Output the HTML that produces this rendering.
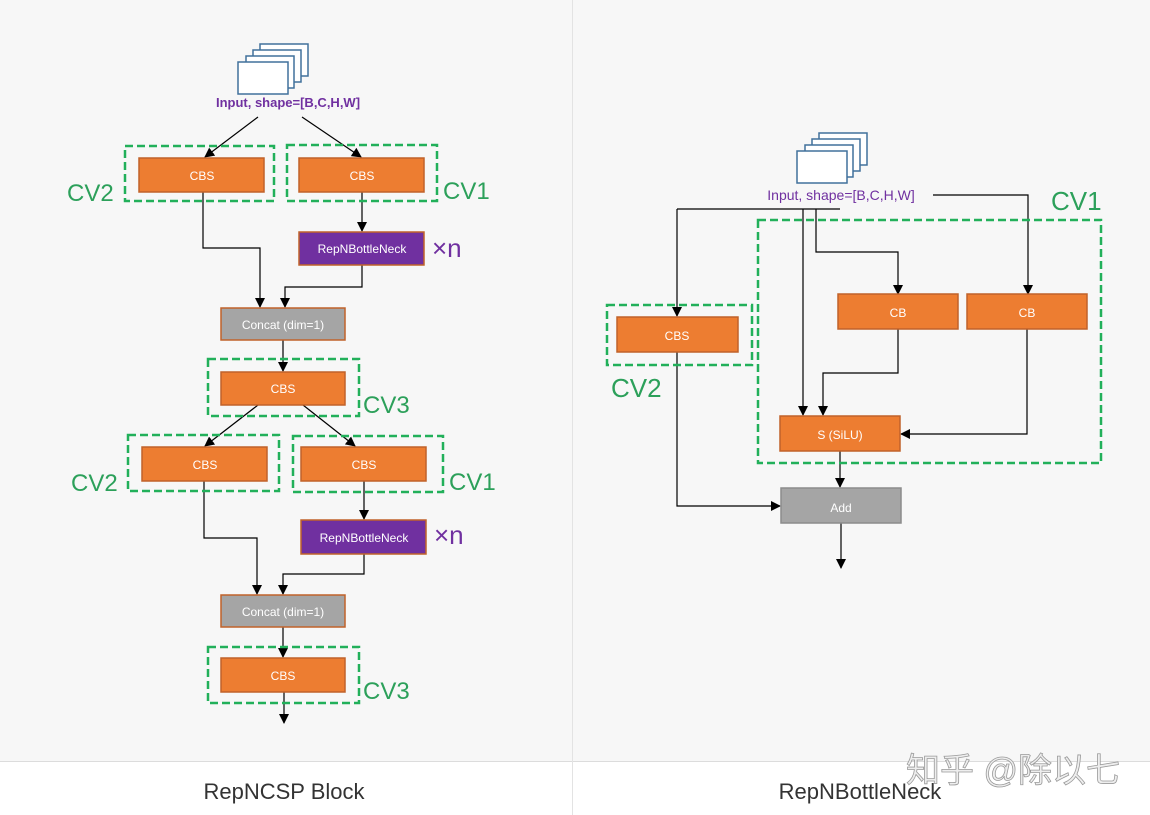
<!DOCTYPE html>
<html><head><meta charset="utf-8"><style>
html,body{margin:0;padding:0;background:#fff}
svg{display:block}
text{font-family:"Liberation Sans","Noto Sans CJK SC",sans-serif}
</style></head><body>
<svg width="1150" height="815" viewBox="0 0 1150 815" xmlns="http://www.w3.org/2000/svg">
<defs>
<marker id="a" markerWidth="10" markerHeight="10" refX="9" refY="5" orient="auto" markerUnits="userSpaceOnUse">
<path d="M0,0 L10,5 L0,10 z" fill="#000"/></marker>
<g id="stack">
<rect x="22" y="0" width="48" height="32" fill="#fff" stroke="#41719c" stroke-width="1.5"/>
<rect x="15" y="6" width="48" height="32" fill="#fff" stroke="#41719c" stroke-width="1.5"/>
<rect x="8" y="12" width="48" height="32" fill="#fff" stroke="#41719c" stroke-width="1.5"/>
<rect x="0" y="18" width="50" height="32" fill="#fff" stroke="#41719c" stroke-width="1.5"/>
</g>
</defs>
<rect x="0" y="0" width="1150" height="761" fill="#f7f7f7"/>
<line x1="0" y1="761.5" x2="1150" y2="761.5" stroke="#dcdcdc"/>
<line x1="572.5" y1="0" x2="572.5" y2="815" stroke="#e3e3e3"/>

<g fill="none" stroke="#000" stroke-width="1.2">
<line x1="258" y1="117" x2="205" y2="157" marker-end="url(#a)"/>
<line x1="302" y1="117" x2="361" y2="157" marker-end="url(#a)"/>
<path d="M203,192 V248 H260 V307" marker-end="url(#a)"/>
<line x1="362" y1="192" x2="362" y2="231" marker-end="url(#a)"/>
<path d="M362,265 V287 H285 V307" marker-end="url(#a)"/>
<line x1="283" y1="340" x2="283" y2="371" marker-end="url(#a)"/>
<line x1="258" y1="405" x2="205" y2="446" marker-end="url(#a)"/>
<line x1="303" y1="405" x2="355" y2="446" marker-end="url(#a)"/>
<path d="M204,481 V538 H257 V594" marker-end="url(#a)"/>
<line x1="364" y1="481" x2="364" y2="519" marker-end="url(#a)"/>
<path d="M364,554 V574 H283 V594" marker-end="url(#a)"/>
<line x1="283" y1="627" x2="283" y2="657" marker-end="url(#a)"/>
<line x1="284" y1="692" x2="284" y2="723" marker-end="url(#a)"/>
<path d="M933,195 H1028 V294" marker-end="url(#a)"/>
<line x1="677" y1="209" x2="840" y2="209"/>
<line x1="677" y1="209" x2="677" y2="316" marker-end="url(#a)"/>
<line x1="803" y1="209" x2="803" y2="415" marker-end="url(#a)"/>
<path d="M816,209 V252 H898 V294" marker-end="url(#a)"/>
<path d="M898,329 V373 H823 V415" marker-end="url(#a)"/>
<path d="M1027,329 V434 H901" marker-end="url(#a)"/>
<path d="M677,352 V506 H780" marker-end="url(#a)"/>
<line x1="840" y1="451" x2="840" y2="487" marker-end="url(#a)"/>
<line x1="841" y1="523" x2="841" y2="568" marker-end="url(#a)"/>
</g>

<g fill="none" stroke="#22b05a" stroke-width="2.5" stroke-dasharray="8,4">
<rect x="125" y="146" width="149" height="55"/>
<rect x="287" y="145" width="150" height="56"/>
<rect x="208" y="359" width="151" height="57"/>
<rect x="128" y="435" width="151" height="56"/>
<rect x="293" y="436" width="150" height="56"/>
<rect x="208" y="647" width="151" height="56"/>
<rect x="758" y="220" width="343" height="243"/>
<rect x="607" y="305" width="145" height="60"/>
</g>

<g stroke="#c0622a" stroke-width="1.5">
<rect x="139" y="158" width="125" height="34" fill="#ed7d31"/>
<rect x="299" y="158" width="125" height="34" fill="#ed7d31"/>
<rect x="299" y="232" width="125" height="33" fill="#7030a0"/>
<rect x="221" y="308" width="124" height="32" fill="#a5a5a5"/>
<rect x="221" y="372" width="124" height="33" fill="#ed7d31"/>
<rect x="142" y="447" width="125" height="34" fill="#ed7d31"/>
<rect x="301" y="447" width="125" height="34" fill="#ed7d31"/>
<rect x="301" y="520" width="125" height="34" fill="#7030a0"/>
<rect x="221" y="595" width="124" height="32" fill="#a5a5a5"/>
<rect x="221" y="658" width="124" height="34" fill="#ed7d31"/>
<rect x="838" y="294" width="120" height="35" fill="#ed7d31"/>
<rect x="967" y="294" width="120" height="35" fill="#ed7d31"/>
<rect x="617" y="317" width="121" height="35" fill="#ed7d31"/>
<rect x="780" y="416" width="120" height="35" fill="#ed7d31"/>
<rect x="781" y="488" width="120" height="35" fill="#a5a5a5" stroke="#8c8c8c"/>
</g>

<g fill="#fff" font-size="12" text-anchor="middle">
<text x="202" y="180">CBS</text>
<text x="362" y="180">CBS</text>
<text x="362" y="253">RepNBottleNeck</text>
<text x="283" y="329">Concat (dim=1)</text>
<text x="283" y="393">CBS</text>
<text x="205" y="469">CBS</text>
<text x="364" y="469">CBS</text>
<text x="364" y="542">RepNBottleNeck</text>
<text x="283" y="616">Concat (dim=1)</text>
<text x="283" y="680">CBS</text>
<text x="898" y="317">CB</text>
<text x="1027" y="317">CB</text>
<text x="677" y="340">CBS</text>
<text x="840" y="439">S (SiLU)</text>
<text x="841" y="512">Add</text>
</g>

<use href="#stack" x="238" y="44"/>
<use href="#stack" x="797" y="133"/>
<text x="288" y="107" fill="#7030a0" font-size="13" font-weight="bold" text-anchor="middle">Input, shape=[B,C,H,W]</text>
<text x="841" y="200" fill="#7030a0" font-size="14" text-anchor="middle">Input, shape=[B,C,H,W]</text>

<g fill="#2ca05a" font-size="24">
<text x="67" y="201">CV2</text>
<text x="443" y="199">CV1</text>
<text x="363" y="413">CV3</text>
<text x="71" y="491">CV2</text>
<text x="449" y="490">CV1</text>
<text x="363" y="699">CV3</text>
<text x="1051" y="210" font-size="26">CV1</text>
<text x="611" y="397" font-size="26">CV2</text>
</g>
<g fill="#7030a0" font-size="26">
<text x="432" y="257">×n</text>
<text x="434" y="544">×n</text>
</g>

<g fill="#333" font-size="22" text-anchor="middle">
<text x="284" y="799">RepNCSP Block</text>
<text x="860" y="799">RepNBottleNeck</text>
</g>
<text x="906" y="782" fill="#eeeeee" stroke="#9a9a9a" stroke-width="0.8" font-size="34" textLength="214" lengthAdjust="spacingAndGlyphs">知乎 @除以七</text>
</svg>
</body></html>
